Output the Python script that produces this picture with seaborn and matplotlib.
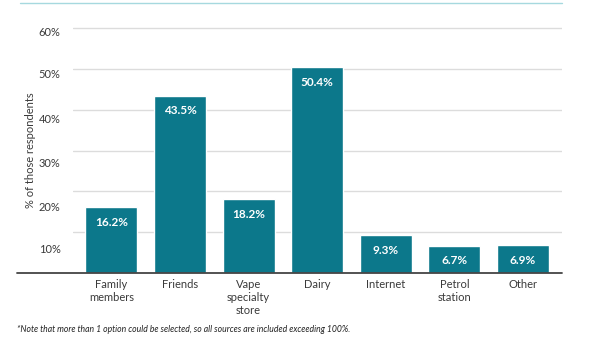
import matplotlib
matplotlib.use("Agg")
import matplotlib.pyplot as plt
from matplotlib.lines import Line2D
import seaborn as sns
import pandas as pd

# data
categories = ["Family\nmembers", "Friends", "Vape\nspecialty\nstore", "Dairy",
              "Internet", "Petrol\nstation", "Other"]
values = [16.2, 43.5, 18.2, 50.4, 9.3, 6.7, 6.9]
grid_values = [10, 20, 30, 40, 50, 60]
tick_text = ["10%", "20%", "30%", "40%", "50%", "60%"]
# the original puts its axis labels a little below each gridline
tick_pos = [5.9, 16.4, 27.2, 38.0, 48.8, 59.3]

bar_color = "#0c788b"
text_color = "#3a3a3a"

sns.set_style("white")
plt.rcParams['font.family'] = ['Lato', 'DejaVu Sans']

df = pd.DataFrame({"source": categories, "pct": values})

fig = plt.figure(figsize=(6, 3.52), dpi=100)
ax = fig.add_axes([73 / 600, 79 / 352, (562 - 73) / 600, (349 - 79) / 352])

for g in grid_values:
    ax.axhline(g, color="#dcdcdc", lw=1.0, zorder=0)

sns.barplot(data=df, x="source", y="pct", color=bar_color, saturation=1,
            width=0.76, ax=ax, zorder=2)

for i, v in enumerate(values):
    ax.annotate(f"{v}%", (i, v), xytext=(0, -11), textcoords="offset points",
                ha="center", va="center", color="white", fontsize=8.5,
                fontweight="bold")

ax.set_xlim(-0.56, 6.57)
ax.set_ylim(0, 66.2)
ax.set_yticks(tick_pos)
ax.set_yticklabels(tick_text)
ax.tick_params(axis="y", length=0, pad=9, labelsize=8, labelcolor=text_color)
ax.tick_params(axis="x", length=0, pad=4, labelsize=8, labelcolor=text_color)
for lab in ax.get_xticklabels():
    lab.set_linespacing(1.25)
ax.set_xlabel("")
ax.set_ylabel("")
for s in ax.spines.values():
    s.set_visible(False)

# baseline and top rule run wider than the plotting area
fig.add_artist(Line2D([17 / 600, 562 / 600], [79 / 352, 79 / 352],
                      color="#444444", lw=1.3))
fig.add_artist(Line2D([20 / 600, 562 / 600], [349 / 352, 349 / 352],
                      color="#a6d9df", lw=1.0))

fig.text(31 / 600, (352 - 150) / 352, "% of those respondents", rotation=90,
         ha="center", va="center", fontsize=8, color=text_color)
fig.text(17 / 600, (352 - 329) / 352,
         "*Note that more than 1 option could be selected, so all sources are included exceeding 100%.",
         ha="left", va="center", fontsize=6.2, style="italic", color="#222222")

fig.savefig("out.png", dpi=100)
